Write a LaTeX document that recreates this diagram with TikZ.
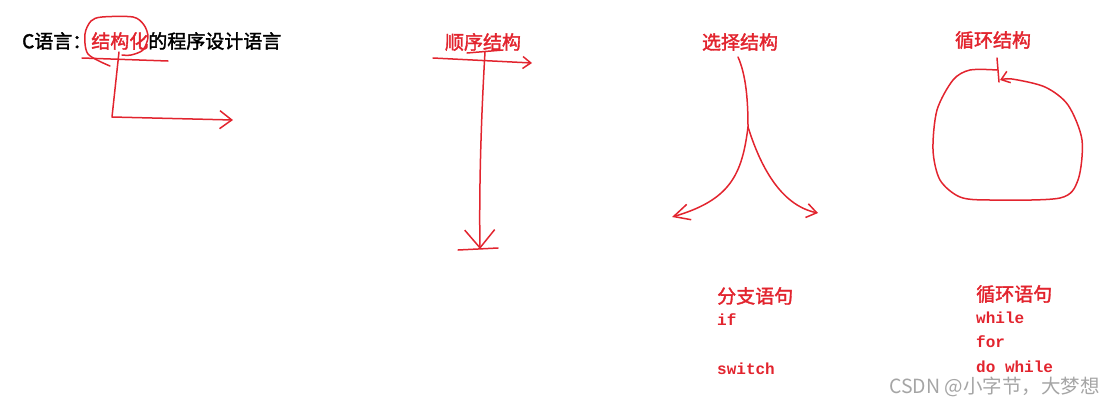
\documentclass[tikz,border=0pt]{standalone}
\usepackage{fontspec}
\usepackage{tikz}
\usetikzlibrary{arrows.meta}
\usetikzlibrary{positioning}
\newfontfamily\cjk{Noto Sans CJK SC}[FakeBold=1.8]
\newfontfamily\cjkmark{Noto Sans CJK SC}
\newfontfamily\code{Liberation Mono}
\definecolor{ink}{RGB}{226,36,46}
\definecolor{mark}{RGB}{165,165,165}
\tikzstyle{pen} = [draw=ink, line width=1.5pt, line cap=round, line join=round]
\tikzstyle{arrow} = [pen, -{Straight Barb[length=12pt,width=18pt]}]
\tikzstyle{title} = [text=ink, font=\cjk\fontsize{19}{22}\selectfont, inner sep=0pt]
\tikzstyle{code} = [text=ink, font=\code\bfseries\fontsize{16}{18}\selectfont, inner sep=0pt, anchor=west]

\begin{document}
\begin{tikzpicture}[x=1pt, y=-1pt]
		\useasboundingbox (0,0) rectangle (1115,410);
		% headline
		\node (lang) [anchor=west, inner sep=0pt, font=\cjk\fontsize{19}{22}\selectfont] at (22,41) {C语言：\textcolor{ink}{结构化}的程序设计语言};
		\draw [pen] plot [smooth] coordinates {(110,66) (88,54) (85,34) (91,21) (102,17) (133,17) (144,25) (148,37) (143,50) (131,55) (122,55)};
		\draw [pen] (82,58) -- (168,61);
		\coordinate (bend) at (112,117);
		\draw [arrow] (119,52) -- (bend) -- (233,120);
		% sequence
		\node (seq) [title] at (483,42) {顺序结构};
		\draw [pen] (467,53) -- (503,50);
		\draw [pen, -{Straight Barb[length=8pt,width=12pt]}] (433,58) -- (532,63);
		\coordinate (down) at (480,249);
		\draw [pen, -{Straight Barb[length=18pt,width=30pt]}] (485,52) .. controls (481,120) and (479,190) .. (down);
		\draw [pen] (458,250) -- (498,248);
		% selection
		\node (sel) [title] at (740,42) {选择结构};
		\coordinate (fork) at (748,127);
		\draw [pen] (738,57) .. controls (746,75) and (748,100) .. (fork);
		\draw [pen, -{Straight Barb[length=16pt,width=16pt]}] (fork) .. controls (742,175) and (730,200) .. (672,217);
		\draw [pen, -{Straight Barb[length=10pt,width=14pt]}] (fork) .. controls (760,165) and (780,205) .. (818,213);
		% loop
		\node (loop) [title] at (993,40) {循环结构};
		\draw [pen] (997,58) -- (999,82);
		\draw [pen, -{Straight Barb[length=8pt,width=12pt]}] plot [smooth] coordinates {(997,70) (970,70) (953,80) (937,110) (933,150) (940,180) (960,197) (990,200) (1060,198) (1078,180) (1082,140) (1068,105) (1045,87) (1012,79) (1000,80)};
		% statements
		\node (branch) [title, anchor=west] at (717,296) {分支语句};
		\node (ifkw) [code] at (717,320) {if};
		\node (switchkw) [code] at (717,369) {switch};
		\node (repeat) [title, anchor=west] at (976,294) {循环语句};
		\node (whilekw) [code] at (976,318) {while};
		\node (forkw) [code] at (976,342) {for};
		\node (dowhile) [code] at (976,367) {do while};
		\node (csdn) [anchor=east, inner sep=0pt, text=mark, font=\cjkmark\fontsize{19.5}{21}\selectfont] at (1100,387) {CSDN @小字节，大梦想};
\end{tikzpicture}
\end{document}
